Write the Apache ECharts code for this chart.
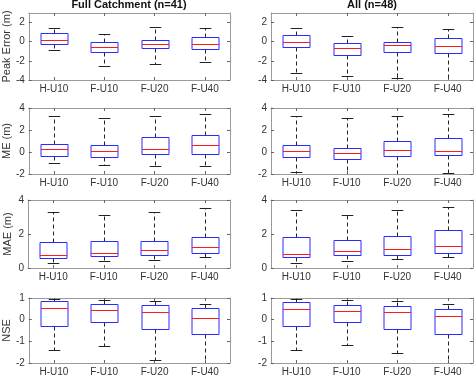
<!DOCTYPE html>
<html>
<head>
<meta charset="utf-8">
<script src="https://cdn.jsdelivr.net/npm/echarts@6/dist/echarts.min.js"></script>
<style>html,body{margin:0;padding:0;background:#fff}#c{width:474px;height:378px}</style>
</head>
<body>
<div id="c"></div>
<script>
// Categories
const categories = ['H-U10', 'F-U10', 'F-U20', 'F-U40'];
// Each entry: [lower whisker, Q1, median, Q3, upper whisker]
const peakFull = [[-0.87,-0.28,0.17,0.94,1.39],[-2.5,-1.05,-0.59,-0.07,0.77],[-2.37,-0.7,-0.28,0.17,1.57],[-2.1,-0.77,-0.24,0.45,1.39]];
const peakAll  = [[-3.24,-0.52,-0.07,0.66,1.39],[-3.59,-1.39,-0.7,-0.17,0.63],[-3.83,-1.08,-0.38,-0.03,1.5],[-4.3,-1.15,-0.42,0.35,1.32]];
const meFull   = [[-1.0,-0.37,0.25,0.7,3.3],[-1.22,-0.49,0.06,0.67,3.1],[-1.31,-0.18,0.3,1.37,3.3],[-1.28,-0.18,0.67,1.55,3.5]];
const meAll    = [[-1.86,-0.49,0.06,0.64,3.3],[-1.98,-0.67,-0.06,0.4,3.05],[-1.98,-0.4,0.15,1.0,3.3],[-1.9,-0.24,0.09,1.28,3.5]];
const maeFull  = [[0.3,0.6,0.74,1.54,3.3],[0.4,0.7,0.9,1.56,3.1],[0.48,0.76,1.04,1.6,3.3],[0.64,0.9,1.24,1.8,3.54]];
const maeAll   = [[0.3,0.64,0.84,1.8,3.4],[0.44,0.74,1.0,1.64,3.1],[0.54,0.78,1.1,1.9,3.44],[0.66,0.9,1.28,2.24,3.56]];
const nseFull  = [[-1.41,-0.27,0.54,0.86,0.97],[-1.23,-0.09,0.43,0.74,0.93],[-1.84,-0.41,0.35,0.67,0.85],[-2.3,-0.68,0.08,0.54,0.72]];
const nseAll   = [[-1.39,-0.27,0.5,0.8,0.95],[-1.18,-0.12,0.41,0.69,0.92],[-1.52,-0.41,0.35,0.64,0.84],[-2.3,-0.68,0.15,0.5,0.72]];

// Y tick labels and ranges
const peakTicks = [-4, -2, 0, 2];
const meTicks = [-2, 0, 2, 4];
const maeTicks = [0, 2, 4];
const nseTicks = [-2, -1, 0, 1];
const peakRange = [-4, 3];
const meRange = [-2, 4];
const maeRange = [0, 4];
const nseRange = [-2, 1];

const rowNames = ['Peak Error (m)', 'ME (m)', 'MAE (m)', 'NSE'];
const colTitles = ['Full Catchment (n=41)', 'All (n=48)'];

const rows = [
  {name: rowNames[0], ticks: peakTicks, range: peakRange, data: [peakFull, peakAll]},
  {name: rowNames[1], ticks: meTicks, range: meRange, data: [meFull, meAll]},
  {name: rowNames[2], ticks: maeTicks, range: maeRange, data: [maeFull, maeAll]},
  {name: rowNames[3], ticks: nseTicks, range: nseRange, data: [nseFull, nseAll]}
];

// layout
const rowTop = [13, 108, 200, 298];
const rowH = [67, 66, 68, 65];
const colLeft = [28, 271];
const colW = 202;

const FONT = 'Liberation Sans, Arial, Helvetica, sans-serif';
const frameColor = '#9a9a9a';
const labelColor = '#333';

const grids = [], xAxes = [], yAxes = [], series = [];

function renderBox(params, api) {
  const x = api.value(0);
  const lo = api.value(1), q1 = api.value(2), md = api.value(3), q3 = api.value(4), hi = api.value(5);
  const band = api.size([1, 0])[0];
  const bw = band * 0.54, cw = band * 0.23;
  const c = api.coord([x, md]);
  const cx = Math.round(c[0]) + 0.5;
  const yLo = api.coord([x, lo])[1];
  const yQ1 = api.coord([x, q1])[1];
  const yMd = Math.round(c[1]) + 0.5;
  const yQ3 = api.coord([x, q3])[1];
  const yHi = api.coord([x, hi])[1];
  const cs = params.coordSys;
  const r = v => Math.round(v) + 0.5;
  const whisk = {stroke: '#222', lineWidth: 1, lineDash: [4, 3]};
  const solidK = {stroke: '#222', lineWidth: 1};
  return {
    type: 'group',
    clipPath: {type: 'rect', shape: {x: cs.x, y: cs.y, width: cs.width, height: cs.height}},
    children: [
      {type: 'line', shape: {x1: cx, y1: r(yQ3), x2: cx, y2: r(yHi)}, style: whisk},
      {type: 'line', shape: {x1: cx, y1: r(yQ1), x2: cx, y2: r(yLo)}, style: whisk},
      {type: 'line', shape: {x1: cx - cw / 2, y1: r(yHi), x2: cx + cw / 2, y2: r(yHi)}, style: solidK},
      {type: 'line', shape: {x1: cx - cw / 2, y1: r(yLo), x2: cx + cw / 2, y2: r(yLo)}, style: solidK},
      {type: 'rect', shape: {x: Math.round(cx - bw / 2), y: r(yQ3), width: Math.round(bw), height: r(yQ1) - r(yQ3)},
        style: {fill: '#fff', stroke: '#2b2bff', lineWidth: 1}},
      {type: 'line', shape: {x1: Math.round(cx - bw / 2), y1: yMd, x2: Math.round(cx - bw / 2) + Math.round(bw), y2: yMd},
        style: {stroke: '#ff1a1a', lineWidth: 1}}
    ]
  };
}

rows.forEach((row, ri) => {
  [0, 1].forEach(ci => {
    const g = grids.length;
    grids.push({left: colLeft[ci], top: rowTop[ri], width: colW, height: rowH[ri]});
    const xBase = {
      type: 'category', data: categories, gridIndex: g, boundaryGap: true,
      axisLine: {show: true, onZero: false, lineStyle: {color: frameColor, width: 1}},
      axisTick: {show: true, inside: true, alignWithLabel: true, length: 3, lineStyle: {color: '#666'}},
      splitLine: {show: false}
    };
    xAxes.push(Object.assign({}, xBase, {
      position: 'bottom',
      axisLabel: {show: true, color: labelColor, fontSize: 10, fontFamily: FONT, margin: 4}
    }));
    xAxes.push(Object.assign({}, xBase, {position: 'top', axisLabel: {show: false}}));
    const yBase = {
      type: 'value', gridIndex: g, min: row.range[0], max: row.range[1],
      axisLine: {show: true, onZero: false, lineStyle: {color: frameColor, width: 1}},
      axisTick: {show: true, inside: true, length: 3, lineStyle: {color: '#666'}, customValues: row.ticks},
      splitLine: {show: false}
    };
    const yLeft = Object.assign({}, yBase, {
      position: 'left',
      axisLabel: {show: true, color: labelColor, fontSize: 10, fontFamily: FONT, margin: 4, customValues: row.ticks}
    });
    if (ci === 0) {
      yLeft.name = row.name;
      yLeft.nameLocation = 'middle';
      yLeft.nameGap = 15;
      yLeft.nameTextStyle = {color: labelColor, fontSize: 11, fontFamily: FONT};
    }
    yAxes.push(yLeft);
    yAxes.push(Object.assign({}, yBase, {position: 'right', axisLabel: {show: false}}));
    series.push({
      type: 'custom',
      xAxisIndex: g * 2, yAxisIndex: g * 2,
      renderItem: renderBox,
      encode: {x: 0, y: [1, 2, 3, 4, 5]},
      data: row.data[ci].map((v, i) => [i].concat(v)),
      clip: true,
      silent: true
    });
  });
});

const chart = echarts.init(document.getElementById('c'), null, {renderer: 'canvas'});
chart.setOption({
  animation: false,
  backgroundColor: '#fff',
  grid: grids,
  xAxis: xAxes,
  yAxis: yAxes,
  series: series,
  graphic: colTitles.map((t, i) => ({
    type: 'text',
    x: colLeft[i] + colW / 2,
    y: 5,
    style: {text: t, align: 'center', verticalAlign: 'middle', fill: '#111', font: 'bold 11px ' + FONT}
  }))
});
</script>
</body>
</html>
